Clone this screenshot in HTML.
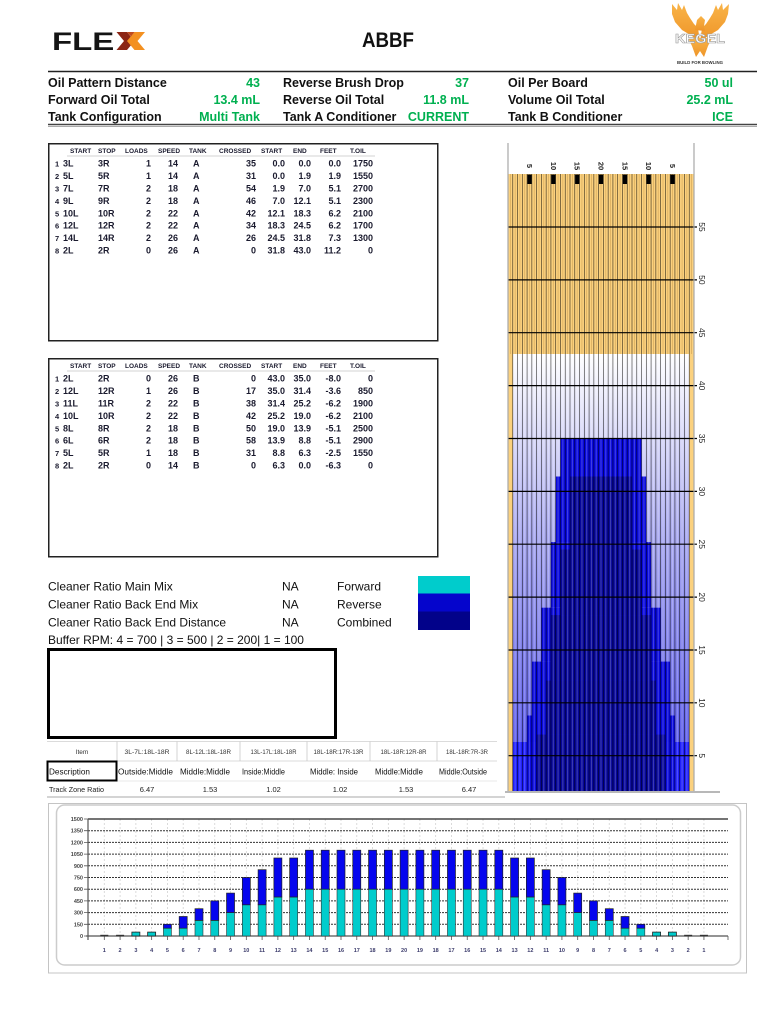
<!DOCTYPE html>
<html><head><meta charset="utf-8"><style>html,body{margin:0;padding:0;background:#fff}svg{display:block}</style></head>
<body>
<svg width="757" height="1024" viewBox="0 0 757 1024" xmlns="http://www.w3.org/2000/svg" font-family="'Liberation Sans', sans-serif">
<defs>
<linearGradient id="lav" gradientUnits="userSpaceOnUse" x1="0" y1="354" x2="0" y2="791">
<stop offset="0" stop-color="#ffffff"/>
<stop offset="0.19" stop-color="#d8d8f8"/>
<stop offset="0.44" stop-color="#a6a6f0"/>
<stop offset="0.68" stop-color="#8080ec"/>
<stop offset="0.92" stop-color="#5c5cec"/>
<stop offset="1" stop-color="#4e4eee"/>
</linearGradient>
<linearGradient id="kg" x1="0" y1="0" x2="0" y2="1">
<stop offset="0" stop-color="#f9b448"/><stop offset="1" stop-color="#ee9428"/>
</linearGradient>
<g id="b0"><rect x="-4" y="934.8" width="8" height="1.6" fill="#333"/></g>
<g id="b50"><rect x="-4" y="932.1" width="8" height="3.9" fill="#00cccc" stroke="#222" stroke-width="0.8"/></g>
<g id="b150"><rect x="-4" y="928.2" width="8" height="7.8" fill="#00cccc" stroke="#333" stroke-width="0.6"/><rect x="-4" y="924.3" width="8" height="3.9" fill="#0505ee" stroke="#222" stroke-width="0.7"/></g>
<g id="b250"><rect x="-4" y="928.2" width="8" height="7.8" fill="#00cccc" stroke="#333" stroke-width="0.6"/><rect x="-4" y="916.5" width="8" height="11.7" fill="#0505ee" stroke="#222" stroke-width="0.7"/></g>
<g id="b350"><rect x="-4" y="920.4" width="8" height="15.6" fill="#00cccc" stroke="#333" stroke-width="0.6"/><rect x="-4" y="908.7" width="8" height="11.7" fill="#0505ee" stroke="#222" stroke-width="0.7"/></g>
<g id="b450"><rect x="-4" y="920.4" width="8" height="15.6" fill="#00cccc" stroke="#333" stroke-width="0.6"/><rect x="-4" y="900.9" width="8" height="19.5" fill="#0505ee" stroke="#222" stroke-width="0.7"/></g>
<g id="b550"><rect x="-4" y="912.6" width="8" height="23.4" fill="#00cccc" stroke="#333" stroke-width="0.6"/><rect x="-4" y="893.1" width="8" height="19.5" fill="#0505ee" stroke="#222" stroke-width="0.7"/></g>
<g id="b750"><rect x="-4" y="904.8" width="8" height="31.2" fill="#00cccc" stroke="#333" stroke-width="0.6"/><rect x="-4" y="877.5" width="8" height="27.3" fill="#0505ee" stroke="#222" stroke-width="0.7"/></g>
<g id="b850"><rect x="-4" y="904.8" width="8" height="31.2" fill="#00cccc" stroke="#333" stroke-width="0.6"/><rect x="-4" y="869.7" width="8" height="35.1" fill="#0505ee" stroke="#222" stroke-width="0.7"/></g>
<g id="b1000"><rect x="-4" y="897" width="8" height="39" fill="#00cccc" stroke="#333" stroke-width="0.6"/><rect x="-4" y="858" width="8" height="39" fill="#0505ee" stroke="#222" stroke-width="0.7"/></g>
<g id="b1100"><rect x="-4" y="889.2" width="8" height="46.8" fill="#00cccc" stroke="#333" stroke-width="0.6"/><rect x="-4" y="850.2" width="8" height="39" fill="#0505ee" stroke="#222" stroke-width="0.7"/></g>
</defs>

<!-- ===== HEADER ===== -->
<text transform="translate(52,50) scale(1.32,1)" font-size="25" font-weight="bold" fill="#141414">FLE</text>
<polygon points="116.5,32 127,32 134.5,41 127,50 116.5,50 124,41" fill="#8b2514"/>
<polygon points="145,32 134.5,32 127,41 134.5,50 145,50 137.5,41" fill="#f39020"/>
<polygon points="127,32 134.5,32 131,36.5" fill="#c04a1c"/>
<text x="388" y="47" font-size="21" font-weight="bold" fill="#111" text-anchor="middle" textLength="52" lengthAdjust="spacingAndGlyphs">ABBF</text>

<!-- Kegel logo -->
<g fill="url(#kg)">
<path d="M700,42 L692,36 L682,30 L675,22 L672,14 L672,4 L677,10 L678,3 L682,10 L684,5 L687,13 L690,18 L694,24 L698,28 Z"/>
<path d="M700,42 L708,36 L718,30 L725,22 L728,14 L729,4 L723,10 L722,3 L718,10 L716,5 L713,13 L710,18 L706,24 L702,28 Z"/>
<path d="M695,30 L697,20 L701,16 L705,20 L704,26 L705,31 Z"/>
<path d="M688,38 L712,38 L708,46 L704,57 L700,51 L696,57 L692,46 Z"/>
</g>
<text x="700" y="43" font-size="12.5" font-weight="bold" fill="#fff" stroke="#9a9a9a" stroke-width="0.6" text-anchor="middle" textLength="50" lengthAdjust="spacingAndGlyphs">KEGEL</text>
<text x="700" y="64" font-size="4.5" font-weight="bold" fill="#333" text-anchor="middle" textLength="46" lengthAdjust="spacingAndGlyphs">BUILD FOR BOWLING</text>

<line x1="48" y1="71.5" x2="757" y2="71.5" stroke="#222" stroke-width="1.4"/>
<g font-size="12.5" font-weight="bold" fill="#111">
<text x="48" y="87">Oil Pattern Distance</text>
<text x="48" y="104">Forward Oil Total</text>
<text x="48" y="121">Tank Configuration</text>
<text x="283" y="87">Reverse Brush Drop</text>
<text x="283" y="104">Reverse Oil Total</text>
<text x="283" y="121">Tank A Conditioner</text>
<text x="508" y="87">Oil Per Board</text>
<text x="508" y="104">Volume Oil Total</text>
<text x="508" y="121">Tank B Conditioner</text>
</g>
<g font-size="12.5" font-weight="bold" fill="#00b050" text-anchor="end">
<text x="260" y="87">43</text>
<text x="260" y="104">13.4 mL</text>
<text x="260" y="121">Multi Tank</text>
<text x="469" y="87">37</text>
<text x="469" y="104">11.8 mL</text>
<text x="469" y="121">CURRENT</text>
<text x="733" y="87">50 ul</text>
<text x="733" y="104">25.2 mL</text>
<text x="733" y="121">ICE</text>
</g>
<line x1="48" y1="124.5" x2="757" y2="124.5" stroke="#444" stroke-width="1.4"/>
<line x1="48" y1="126.5" x2="757" y2="126.5" stroke="#aaa" stroke-width="1"/>

<!-- ===== TABLE 1 ===== -->
<rect x="48.75" y="143.75" width="389" height="197" fill="#fff" stroke="#222" stroke-width="1.5"/>
<g font-size="6.5" font-weight="bold" fill="#1a1a2e">
<text x="70" y="153">START</text><text x="98" y="153">STOP</text><text x="125" y="153">LOADS</text><text x="158" y="153">SPEED</text><text x="189" y="153">TANK</text><text x="219" y="153">CROSSED</text><text x="261" y="153">START</text><text x="293" y="153">END</text><text x="320" y="153">FEET</text><text x="350" y="153">T.OIL</text>
</g>
<line x1="67" y1="156" x2="375" y2="156" stroke="#c4c4c4" stroke-width="0.8"/>
<g font-size="7.5" font-weight="bold" fill="#1a1a2e">
<text x="55" y="166.5">1</text><text x="55" y="179">2</text><text x="55" y="191.5">3</text><text x="55" y="204">4</text><text x="55" y="216.3">5</text><text x="55" y="228.6">6</text><text x="55" y="241">7</text><text x="55" y="253.3">8</text>
</g>
<g font-size="9" font-weight="bold" fill="#1a1a2e">
<text x="63" y="166.5">3L</text><text x="98" y="166.5">3R</text>
<text x="63" y="179">5L</text><text x="98" y="179">5R</text>
<text x="63" y="191.5">7L</text><text x="98" y="191.5">7R</text>
<text x="63" y="204">9L</text><text x="98" y="204">9R</text>
<text x="63" y="216.3">10L</text><text x="98" y="216.3">10R</text>
<text x="63" y="228.6">12L</text><text x="98" y="228.6">12R</text>
<text x="63" y="241">14L</text><text x="98" y="241">14R</text>
<text x="63" y="253.3">2L</text><text x="98" y="253.3">2R</text>
<text x="193" y="166.5">A</text><text x="193" y="179">A</text><text x="193" y="191.5">A</text><text x="193" y="204">A</text><text x="193" y="216.3">A</text><text x="193" y="228.6">A</text><text x="193" y="241">A</text><text x="193" y="253.3">A</text>
</g>
<g font-size="9" font-weight="bold" fill="#1a1a2e" text-anchor="end">
<text x="151" y="166.5">1</text><text x="178" y="166.5">14</text><text x="256" y="166.5">35</text><text x="285" y="166.5">0.0</text><text x="311" y="166.5">0.0</text><text x="341" y="166.5">0.0</text><text x="373" y="166.5">1750</text>
<text x="151" y="179">1</text><text x="178" y="179">14</text><text x="256" y="179">31</text><text x="285" y="179">0.0</text><text x="311" y="179">1.9</text><text x="341" y="179">1.9</text><text x="373" y="179">1550</text>
<text x="151" y="191.5">2</text><text x="178" y="191.5">18</text><text x="256" y="191.5">54</text><text x="285" y="191.5">1.9</text><text x="311" y="191.5">7.0</text><text x="341" y="191.5">5.1</text><text x="373" y="191.5">2700</text>
<text x="151" y="204">2</text><text x="178" y="204">18</text><text x="256" y="204">46</text><text x="285" y="204">7.0</text><text x="311" y="204">12.1</text><text x="341" y="204">5.1</text><text x="373" y="204">2300</text>
<text x="151" y="216.3">2</text><text x="178" y="216.3">22</text><text x="256" y="216.3">42</text><text x="285" y="216.3">12.1</text><text x="311" y="216.3">18.3</text><text x="341" y="216.3">6.2</text><text x="373" y="216.3">2100</text>
<text x="151" y="228.6">2</text><text x="178" y="228.6">22</text><text x="256" y="228.6">34</text><text x="285" y="228.6">18.3</text><text x="311" y="228.6">24.5</text><text x="341" y="228.6">6.2</text><text x="373" y="228.6">1700</text>
<text x="151" y="241">2</text><text x="178" y="241">26</text><text x="256" y="241">26</text><text x="285" y="241">24.5</text><text x="311" y="241">31.8</text><text x="341" y="241">7.3</text><text x="373" y="241">1300</text>
<text x="151" y="253.3">0</text><text x="178" y="253.3">26</text><text x="256" y="253.3">0</text><text x="285" y="253.3">31.8</text><text x="311" y="253.3">43.0</text><text x="341" y="253.3">11.2</text><text x="373" y="253.3">0</text>
</g>

<!-- ===== TABLE 2 ===== -->
<rect x="48.75" y="358.75" width="389" height="198" fill="#fff" stroke="#222" stroke-width="1.5"/>
<g font-size="6.5" font-weight="bold" fill="#1a1a2e">
<text x="70" y="368">START</text><text x="98" y="368">STOP</text><text x="125" y="368">LOADS</text><text x="158" y="368">SPEED</text><text x="189" y="368">TANK</text><text x="219" y="368">CROSSED</text><text x="261" y="368">START</text><text x="293" y="368">END</text><text x="320" y="368">FEET</text><text x="350" y="368">T.OIL</text>
</g>
<line x1="67" y1="371" x2="375" y2="371" stroke="#c4c4c4" stroke-width="0.8"/>
<g font-size="7.5" font-weight="bold" fill="#1a1a2e">
<text x="55" y="381.5">1</text><text x="55" y="394">2</text><text x="55" y="406.5">3</text><text x="55" y="419">4</text><text x="55" y="431.3">5</text><text x="55" y="443.6">6</text><text x="55" y="456">7</text><text x="55" y="468.3">8</text>
</g>
<g font-size="9" font-weight="bold" fill="#1a1a2e">
<text x="63" y="381.5">2L</text><text x="98" y="381.5">2R</text>
<text x="63" y="394">12L</text><text x="98" y="394">12R</text>
<text x="63" y="406.5">11L</text><text x="98" y="406.5">11R</text>
<text x="63" y="419">10L</text><text x="98" y="419">10R</text>
<text x="63" y="431.3">8L</text><text x="98" y="431.3">8R</text>
<text x="63" y="443.6">6L</text><text x="98" y="443.6">6R</text>
<text x="63" y="456">5L</text><text x="98" y="456">5R</text>
<text x="63" y="468.3">2L</text><text x="98" y="468.3">2R</text>
<text x="193" y="381.5">B</text><text x="193" y="394">B</text><text x="193" y="406.5">B</text><text x="193" y="419">B</text><text x="193" y="431.3">B</text><text x="193" y="443.6">B</text><text x="193" y="456">B</text><text x="193" y="468.3">B</text>
</g>
<g font-size="9" font-weight="bold" fill="#1a1a2e" text-anchor="end">
<text x="151" y="381.5">0</text><text x="178" y="381.5">26</text><text x="256" y="381.5">0</text><text x="285" y="381.5">43.0</text><text x="311" y="381.5">35.0</text><text x="341" y="381.5">-8.0</text><text x="373" y="381.5">0</text>
<text x="151" y="394">1</text><text x="178" y="394">26</text><text x="256" y="394">17</text><text x="285" y="394">35.0</text><text x="311" y="394">31.4</text><text x="341" y="394">-3.6</text><text x="373" y="394">850</text>
<text x="151" y="406.5">2</text><text x="178" y="406.5">22</text><text x="256" y="406.5">38</text><text x="285" y="406.5">31.4</text><text x="311" y="406.5">25.2</text><text x="341" y="406.5">-6.2</text><text x="373" y="406.5">1900</text>
<text x="151" y="419">2</text><text x="178" y="419">22</text><text x="256" y="419">42</text><text x="285" y="419">25.2</text><text x="311" y="419">19.0</text><text x="341" y="419">-6.2</text><text x="373" y="419">2100</text>
<text x="151" y="431.3">2</text><text x="178" y="431.3">18</text><text x="256" y="431.3">50</text><text x="285" y="431.3">19.0</text><text x="311" y="431.3">13.9</text><text x="341" y="431.3">-5.1</text><text x="373" y="431.3">2500</text>
<text x="151" y="443.6">2</text><text x="178" y="443.6">18</text><text x="256" y="443.6">58</text><text x="285" y="443.6">13.9</text><text x="311" y="443.6">8.8</text><text x="341" y="443.6">-5.1</text><text x="373" y="443.6">2900</text>
<text x="151" y="456">1</text><text x="178" y="456">18</text><text x="256" y="456">31</text><text x="285" y="456">8.8</text><text x="311" y="456">6.3</text><text x="341" y="456">-2.5</text><text x="373" y="456">1550</text>
<text x="151" y="468.3">0</text><text x="178" y="468.3">14</text><text x="256" y="468.3">0</text><text x="285" y="468.3">6.3</text><text x="311" y="468.3">0.0</text><text x="341" y="468.3">-6.3</text><text x="373" y="468.3">0</text>
</g>

<!-- ===== CLEANER SECTION ===== -->
<g font-size="12" fill="#111">
<text x="48" y="590.5">Cleaner Ratio Main Mix</text>
<text x="48" y="608.5">Cleaner Ratio Back End Mix</text>
<text x="48" y="626.5">Cleaner Ratio Back End Distance</text>
<text x="48" y="644">Buffer RPM: 4 = 700 | 3 = 500 | 2 = 200| 1 = 100</text>
<text x="282" y="590.5">NA</text><text x="282" y="608.5">NA</text><text x="282" y="626.5">NA</text>
<text x="337" y="590.5">Forward</text><text x="337" y="608.5">Reverse</text><text x="337" y="626.5">Combined</text>
</g>
<rect x="418" y="576" width="52" height="17.5" fill="#00cccc"/>
<rect x="418" y="593.5" width="52" height="18" fill="#0505cc"/>
<rect x="418" y="611.5" width="52" height="18.5" fill="#02028a"/>

<rect x="48.5" y="649.5" width="287" height="88" fill="#fff" stroke="#000" stroke-width="3"/>

<!-- ===== TRACK ZONE TABLE ===== -->
<line x1="47" y1="741.5" x2="497" y2="741.5" stroke="#cfcfcf" stroke-width="0.8"/>
<line x1="47" y1="761" x2="497" y2="761" stroke="#cfcfcf" stroke-width="0.8"/>
<line x1="47" y1="781" x2="497" y2="781" stroke="#e0e0e0" stroke-width="0.8"/>
<line x1="47" y1="797" x2="505" y2="797" stroke="#aaa" stroke-width="1"/>
<g stroke="#c8c8c8" stroke-width="0.8">
<line x1="117" y1="741.5" x2="117" y2="761"/><line x1="177" y1="741.5" x2="177" y2="761"/><line x1="240" y1="741.5" x2="240" y2="761"/><line x1="307" y1="741.5" x2="307" y2="761"/><line x1="370" y1="741.5" x2="370" y2="761"/><line x1="437" y1="741.5" x2="437" y2="761"/>
</g>
<rect x="47.5" y="761.5" width="69" height="19" fill="none" stroke="#000" stroke-width="2"/>
<g font-size="6.5" fill="#333" text-anchor="middle">
<text x="82" y="754">Item</text>
<text x="147" y="754" textLength="45" lengthAdjust="spacingAndGlyphs">3L-7L:18L-18R</text>
<text x="208.5" y="754" textLength="45" lengthAdjust="spacingAndGlyphs">8L-12L:18L-18R</text>
<text x="273.5" y="754" textLength="46" lengthAdjust="spacingAndGlyphs">13L-17L:18L-18R</text>
<text x="338.5" y="754" textLength="50" lengthAdjust="spacingAndGlyphs">18L-18R:17R-13R</text>
<text x="403.5" y="754" textLength="46" lengthAdjust="spacingAndGlyphs">18L-18R:12R-8R</text>
<text x="467" y="754" textLength="42" lengthAdjust="spacingAndGlyphs">18L-18R:7R-3R</text>
</g>
<g font-size="8.5" fill="#111">
<text x="49" y="774.5" textLength="41" lengthAdjust="spacingAndGlyphs">Description</text>
<text x="118" y="774.5" textLength="55" lengthAdjust="spacingAndGlyphs">Outside:Middle</text>
<text x="180" y="774.5" textLength="50" lengthAdjust="spacingAndGlyphs">Middle:Middle</text>
<text x="242" y="774.5" textLength="43" lengthAdjust="spacingAndGlyphs">Inside:Middle</text>
<text x="310" y="774.5" textLength="48" lengthAdjust="spacingAndGlyphs">Middle: Inside</text>
<text x="375" y="774.5" textLength="48" lengthAdjust="spacingAndGlyphs">Middle:Middle</text>
<text x="439" y="774.5" textLength="48" lengthAdjust="spacingAndGlyphs">Middle:Outside</text>
</g>
<g font-size="7.5" fill="#222">
<text x="49" y="792" textLength="55" lengthAdjust="spacingAndGlyphs">Track Zone Ratio</text>
<g text-anchor="middle"><text x="147" y="792">6.47</text><text x="210" y="792">1.53</text><text x="273.5" y="792">1.02</text><text x="340" y="792">1.02</text><text x="406" y="792">1.53</text><text x="469" y="792">6.47</text></g>
</g>

<!-- ===== LANE GRAPH ===== -->
<rect x="508" y="174" width="186" height="180" fill="#fbd17e"/>
<rect x="508" y="354" width="186" height="437" fill="url(#lav)"/>
<rect x="508" y="354" width="4.77" height="437" fill="#fbd17e"/>
<rect x="689.23" y="354" width="4.77" height="437" fill="#fbd17e"/>
<g fill="#0808dc">
<rect x="560.46" y="438.5" width="81.08" height="38"/>
<rect x="555.69" y="476.5" width="90.62" height="65.6"/>
<rect x="550.92" y="542.1" width="100.16" height="65.6"/>
<rect x="541.38" y="607.7" width="119.24" height="53.9"/>
<rect x="531.85" y="661.6" width="138.3" height="53.9"/>
<rect x="527.08" y="715.5" width="147.84" height="26.5"/>
</g>
<rect x="512.77" y="742" width="176.46" height="49" fill="#2020fc"/>
<rect x="527.08" y="742" width="147.84" height="49" fill="#0a0ade"/>
<g fill="#06069a">
<rect x="570" y="476.5" width="62" height="73"/>
<rect x="560.46" y="549.5" width="81.08" height="65.6"/>
<rect x="550.92" y="615.1" width="100.16" height="65.5"/>
<rect x="546.15" y="680.6" width="109.7" height="54"/>
<rect x="536.62" y="734.6" width="128.76" height="56.4"/>
</g>
<path d="M510.38 174V354M515.15 174V354M519.92 174V354M524.69 174V354M529.46 174V354M534.23 174V354M539 174V354M543.77 174V354M548.54 174V354M553.31 174V354M558.08 174V354M562.85 174V354M567.62 174V354M572.38 174V354M577.15 174V354M581.92 174V354M586.69 174V354M591.46 174V354M596.23 174V354M601 174V354M605.77 174V354M610.54 174V354M615.31 174V354M620.08 174V354M624.85 174V354M629.62 174V354M634.38 174V354M639.15 174V354M643.92 174V354M648.69 174V354M653.46 174V354M658.23 174V354M663 174V354M667.77 174V354M672.54 174V354M677.31 174V354M682.08 174V354M686.85 174V354M691.62 174V354" stroke="#d9ad5e" stroke-width="0.8"/>
<path d="M515.15 354V791M519.92 354V791M524.69 354V791M529.46 354V791M534.23 354V791M539 354V791M543.77 354V791M548.54 354V791M553.31 354V791M558.08 354V791M562.85 354V791M567.62 354V791M572.38 354V791M577.15 354V791M581.92 354V791M586.69 354V791M591.46 354V791M596.23 354V791M601 354V791M605.77 354V791M610.54 354V791M615.31 354V791M620.08 354V791M624.85 354V791M629.62 354V791M634.38 354V791M639.15 354V791M643.92 354V791M648.69 354V791M653.46 354V791M658.23 354V791M663 354V791M667.77 354V791M672.54 354V791M677.31 354V791M682.08 354V791M686.85 354V791" stroke="#ffffff" stroke-opacity="0.22" stroke-width="1.2"/>
<path d="M512.77 174V791M517.54 174V791M522.31 174V791M527.08 174V791M531.85 174V791M536.62 174V791M541.38 174V791M546.15 174V791M550.92 174V791M555.69 174V791M560.46 174V791M565.23 174V791M570 174V791M574.77 174V791M579.54 174V791M584.31 174V791M589.08 174V791M593.85 174V791M598.62 174V791M603.38 174V791M608.15 174V791M612.92 174V791M617.69 174V791M622.46 174V791M627.23 174V791M632 174V791M636.77 174V791M641.54 174V791M646.31 174V791M651.08 174V791M655.85 174V791M660.62 174V791M665.38 174V791M670.15 174V791M674.92 174V791M679.69 174V791M684.46 174V791M689.23 174V791" stroke="#000" stroke-opacity="0.75" stroke-width="0.65"/>
<path d="M508 227H697M508 279.9H697M508 332.7H697M508 385.6H697M508 438.5H697M508 491.4H697M508 544.2H697M508 597.1H697M508 650H697M508 702.8H697M508 755.7H697" stroke="#000" stroke-width="1.2"/>
<g fill="#000">
<rect x="527.4" y="174.5" width="4.2" height="9.5"/><rect x="551.2" y="174.5" width="4.2" height="9.5"/><rect x="575.1" y="174.5" width="4.2" height="9.5"/><rect x="598.9" y="174.5" width="4.2" height="9.5"/><rect x="622.8" y="174.5" width="4.2" height="9.5"/><rect x="646.6" y="174.5" width="4.2" height="9.5"/><rect x="670.5" y="174.5" width="4.2" height="9.5"/>
</g>
<line x1="508" y1="143" x2="508" y2="792" stroke="#a8a8a8" stroke-width="1.2"/>
<line x1="694" y1="143" x2="694" y2="792" stroke="#a8a8a8" stroke-width="1.2"/>
<line x1="505" y1="792" x2="720" y2="792" stroke="#b8b8b8" stroke-width="2"/>
<g font-size="7.5" font-weight="bold" fill="#222" text-anchor="middle">
<text transform="translate(527,166) rotate(90)">5</text>
<text transform="translate(550.8,166) rotate(90)">10</text>
<text transform="translate(574.6,166) rotate(90)">15</text>
<text transform="translate(598.5,166) rotate(90)">20</text>
<text transform="translate(622.3,166) rotate(90)">15</text>
<text transform="translate(646.2,166) rotate(90)">10</text>
<text transform="translate(670,166) rotate(90)">5</text>
</g>
<g font-size="8.5" fill="#222" text-anchor="middle">
<text transform="translate(699,227) rotate(90)">55</text>
<text transform="translate(699,279.9) rotate(90)">50</text>
<text transform="translate(699,332.7) rotate(90)">45</text>
<text transform="translate(699,385.6) rotate(90)">40</text>
<text transform="translate(699,438.5) rotate(90)">35</text>
<text transform="translate(699,491.4) rotate(90)">30</text>
<text transform="translate(699,544.2) rotate(90)">25</text>
<text transform="translate(699,597.1) rotate(90)">20</text>
<text transform="translate(699,650) rotate(90)">15</text>
<text transform="translate(699,702.8) rotate(90)">10</text>
<text transform="translate(699,755.7) rotate(90)">5</text>
</g>

<!-- ===== BAR CHART ===== -->
<rect x="48.5" y="803.5" width="698" height="169.5" fill="#fff" stroke="#c4c4c4" stroke-width="1"/>
<rect x="56.5" y="805" width="684" height="160" rx="8" ry="8" fill="#fff" stroke="#cccccc" stroke-width="1.5"/>
<path d="M104.3 819V936M120.08 819V936M135.86 819V936M151.64 819V936M167.42 819V936M183.2 819V936M198.98 819V936M214.76 819V936M230.54 819V936M246.32 819V936M262.1 819V936M277.88 819V936M293.66 819V936M309.44 819V936M325.22 819V936M341 819V936M356.78 819V936M372.56 819V936M388.34 819V936M404.12 819V936M419.9 819V936M435.68 819V936M451.46 819V936M467.24 819V936M483.02 819V936M498.8 819V936M514.58 819V936M530.36 819V936M546.14 819V936M561.92 819V936M577.7 819V936M593.48 819V936M609.26 819V936M625.04 819V936M640.82 819V936M656.6 819V936M672.38 819V936M688.16 819V936M703.94 819V936" stroke="#d2d2d2" stroke-width="0.8" stroke-dasharray="2 2"/>
<path d="M88 830.7H728M88 842.4H728M88 854.1H728M88 865.8H728M88 877.5H728M88 889.2H728M88 900.9H728M88 912.6H728M88 924.3H728" stroke="#333" stroke-width="1" stroke-dasharray="2 1"/>
<line x1="88" y1="819" x2="728" y2="819" stroke="#222" stroke-width="1.3"/>
<line x1="88" y1="819" x2="88" y2="940" stroke="#555" stroke-width="1.2"/>
<line x1="86" y1="936" x2="728" y2="936" stroke="#555" stroke-width="1.3"/>
<path d="M84 819H88M84 830.7H88M84 842.4H88M84 854.1H88M84 865.8H88M84 877.5H88M84 889.2H88M84 900.9H88M84 912.6H88M84 924.3H88M84 936H88" stroke="#555" stroke-width="0.8"/>
<path d="M104.3 936V940M120.08 936V940M135.86 936V940M151.64 936V940M167.42 936V940M183.2 936V940M198.98 936V940M214.76 936V940M230.54 936V940M246.32 936V940M262.1 936V940M277.88 936V940M293.66 936V940M309.44 936V940M325.22 936V940M341 936V940M356.78 936V940M372.56 936V940M388.34 936V940M404.12 936V940M419.9 936V940M435.68 936V940M451.46 936V940M467.24 936V940M483.02 936V940M498.8 936V940M514.58 936V940M530.36 936V940M546.14 936V940M561.92 936V940M577.7 936V940M593.48 936V940M609.26 936V940M625.04 936V940M640.82 936V940M656.6 936V940M672.38 936V940M688.16 936V940M703.94 936V940M728 936V940" stroke="#555" stroke-width="0.8"/>
<g font-size="5.5" font-weight="bold" fill="#444" text-anchor="end">
<text x="83" y="821">1500</text><text x="83" y="832.7">1350</text><text x="83" y="844.4">1200</text><text x="83" y="856.1">1050</text><text x="83" y="867.8">900</text><text x="83" y="879.5">750</text><text x="83" y="891.2">600</text><text x="83" y="902.9">450</text><text x="83" y="914.6">300</text><text x="83" y="926.3">150</text><text x="83" y="938">0</text>
</g>
<use href="#b0" x="104.3"/><use href="#b0" x="120.08"/><use href="#b50" x="135.86"/><use href="#b50" x="151.64"/><use href="#b150" x="167.42"/><use href="#b250" x="183.2"/><use href="#b350" x="198.98"/><use href="#b450" x="214.76"/><use href="#b550" x="230.54"/><use href="#b750" x="246.32"/><use href="#b850" x="262.1"/><use href="#b1000" x="277.88"/><use href="#b1000" x="293.66"/>
<use href="#b1100" x="309.44"/><use href="#b1100" x="325.22"/><use href="#b1100" x="341"/><use href="#b1100" x="356.78"/><use href="#b1100" x="372.56"/><use href="#b1100" x="388.34"/><use href="#b1100" x="404.12"/><use href="#b1100" x="419.9"/><use href="#b1100" x="435.68"/><use href="#b1100" x="451.46"/><use href="#b1100" x="467.24"/><use href="#b1100" x="483.02"/><use href="#b1100" x="498.8"/>
<use href="#b1000" x="514.58"/><use href="#b1000" x="530.36"/><use href="#b850" x="546.14"/><use href="#b750" x="561.92"/><use href="#b550" x="577.7"/><use href="#b450" x="593.48"/><use href="#b350" x="609.26"/><use href="#b250" x="625.04"/><use href="#b150" x="640.82"/><use href="#b50" x="656.6"/><use href="#b50" x="672.38"/><use href="#b0" x="688.16"/><use href="#b0" x="703.94"/>
<g font-size="5.5" font-weight="bold" fill="#3b3b6b" text-anchor="middle">
<text x="104.3" y="952">1</text><text x="120.08" y="952">2</text><text x="135.86" y="952">3</text><text x="151.64" y="952">4</text><text x="167.42" y="952">5</text><text x="183.2" y="952">6</text><text x="198.98" y="952">7</text><text x="214.76" y="952">8</text><text x="230.54" y="952">9</text><text x="246.32" y="952">10</text><text x="262.1" y="952">11</text><text x="277.88" y="952">12</text><text x="293.66" y="952">13</text><text x="309.44" y="952">14</text><text x="325.22" y="952">15</text><text x="341" y="952">16</text><text x="356.78" y="952">17</text><text x="372.56" y="952">18</text><text x="388.34" y="952">19</text><text x="404.12" y="952">20</text>
<text x="419.9" y="952">19</text><text x="435.68" y="952">18</text><text x="451.46" y="952">17</text><text x="467.24" y="952">16</text><text x="483.02" y="952">15</text><text x="498.8" y="952">14</text><text x="514.58" y="952">13</text><text x="530.36" y="952">12</text><text x="546.14" y="952">11</text><text x="561.92" y="952">10</text><text x="577.7" y="952">9</text><text x="593.48" y="952">8</text><text x="609.26" y="952">7</text><text x="625.04" y="952">6</text><text x="640.82" y="952">5</text><text x="656.6" y="952">4</text><text x="672.38" y="952">3</text><text x="688.16" y="952">2</text><text x="703.94" y="952">1</text>
</g>
</svg>
</body></html>
